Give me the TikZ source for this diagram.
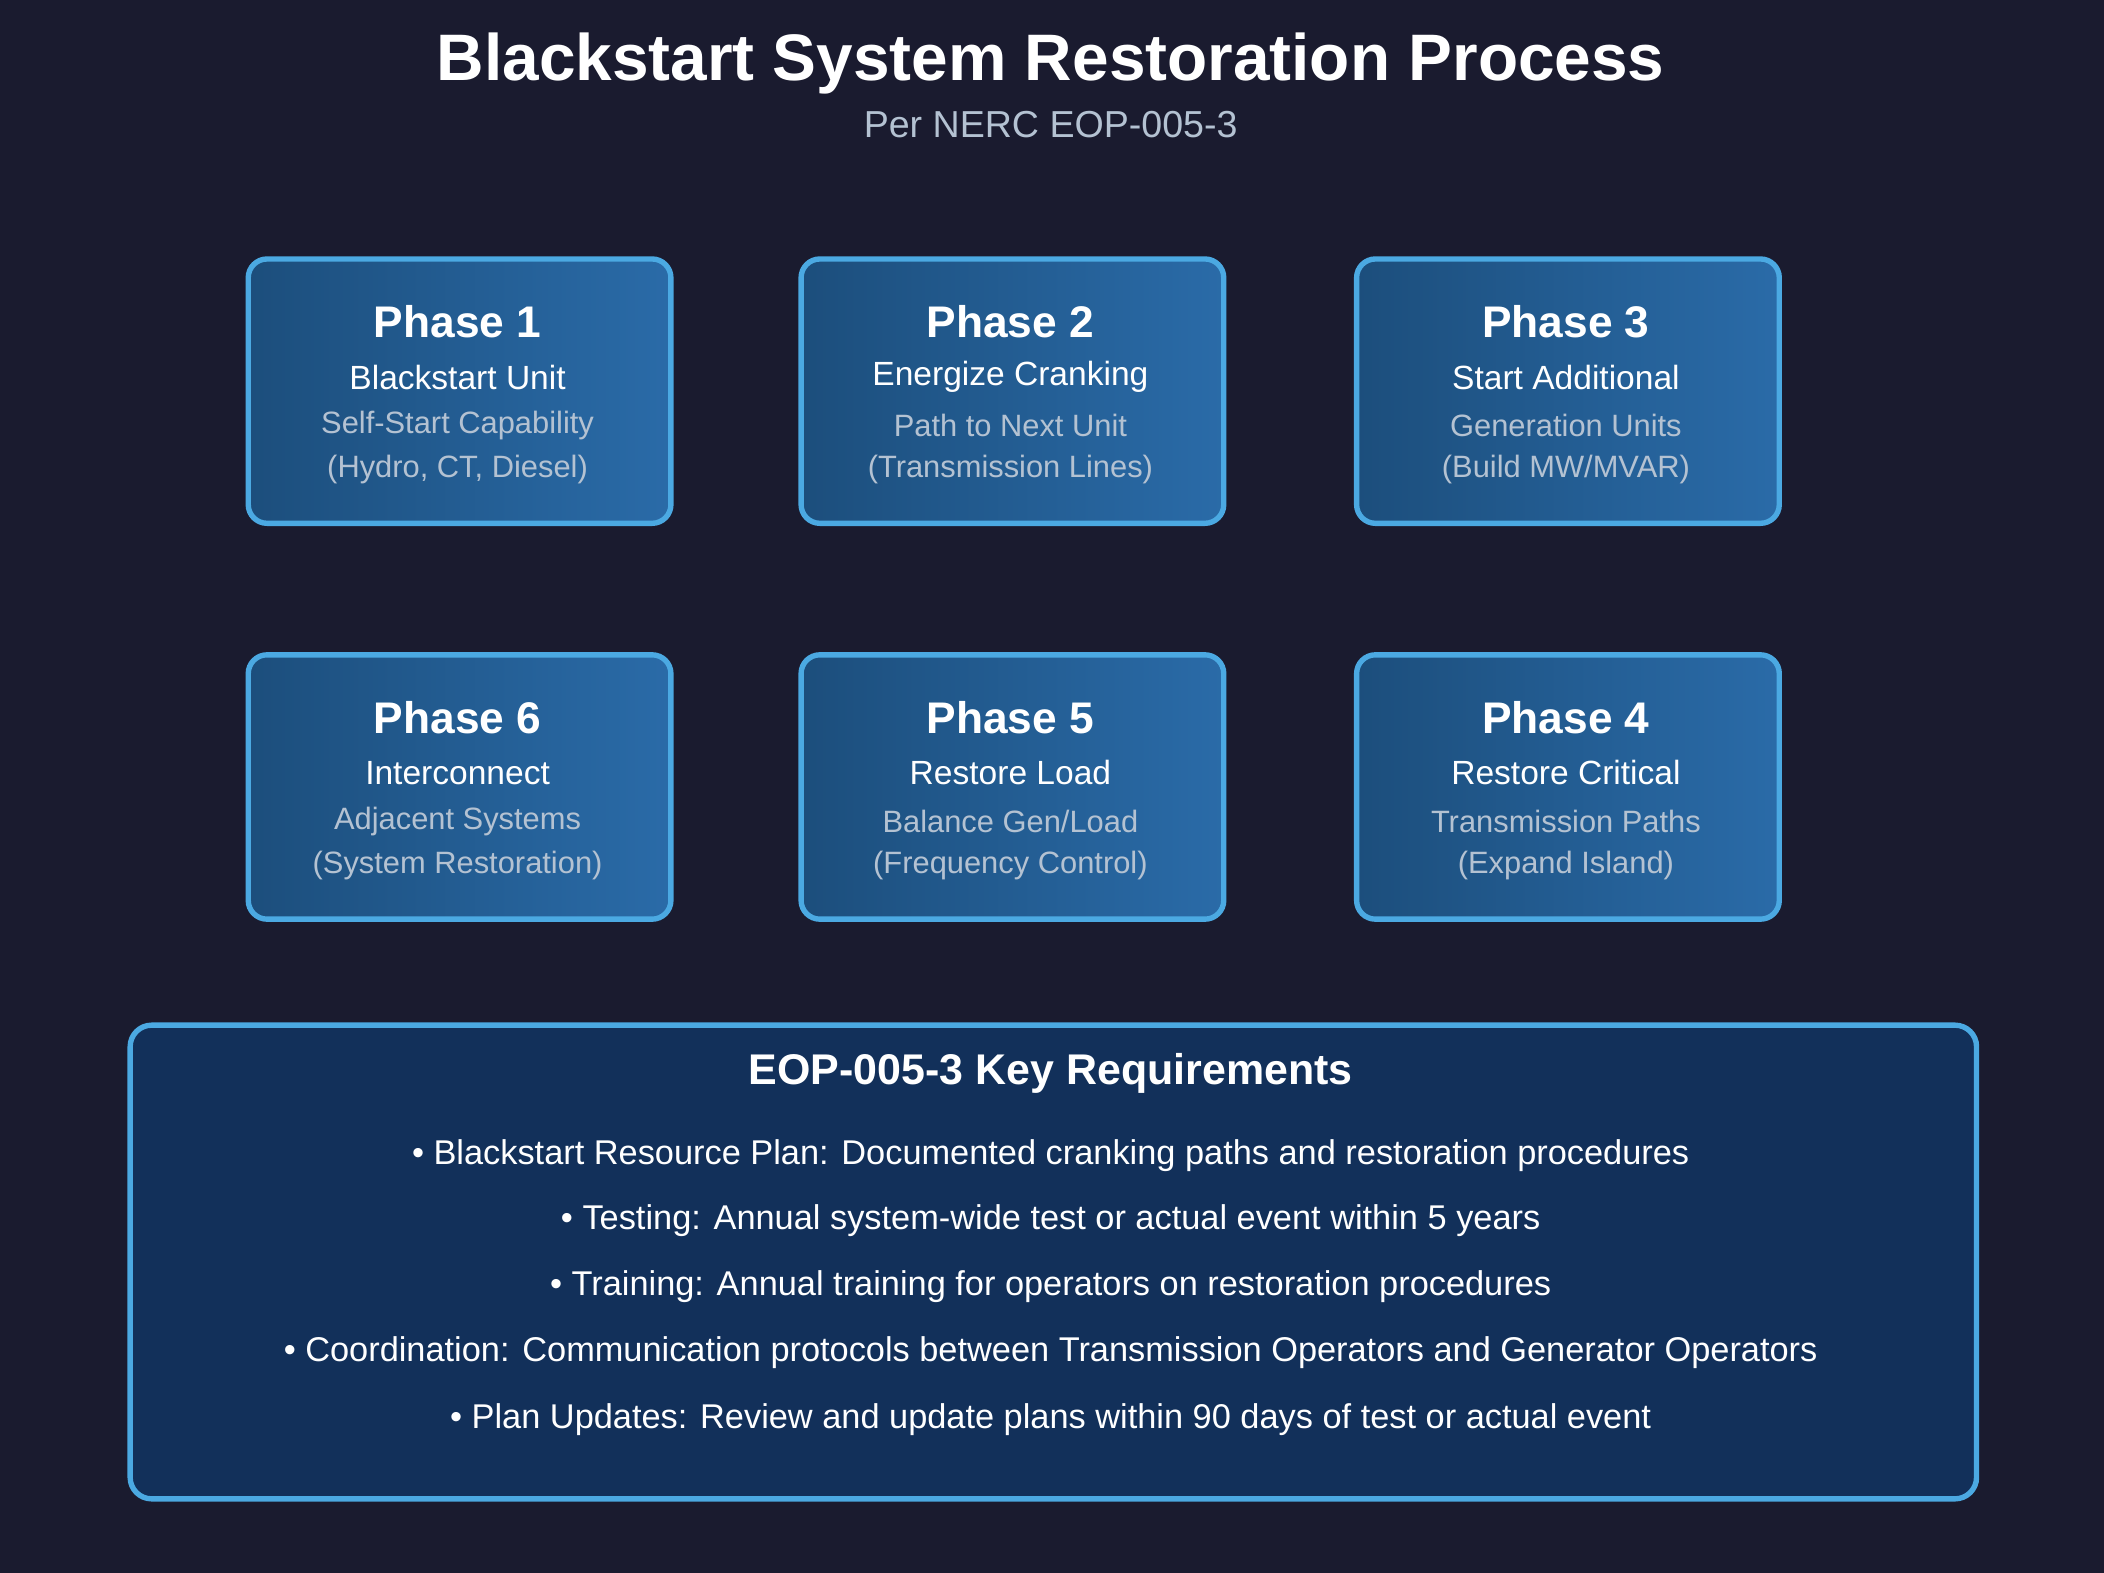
\documentclass[tikz,border=0pt]{standalone}
\usepackage{fontspec}
\setmainfont{Liberation Sans}
\definecolor{bgdark}{HTML}{1A1B2F}
\definecolor{boxleft}{HTML}{1C4E7C}
\definecolor{boxright}{HTML}{2A6BA8}
\definecolor{boxedge}{HTML}{4BA9E2}
\definecolor{reqfill}{HTML}{12305A}
\definecolor{subgray}{HTML}{B4C2D2}
\tikzset{
  phasebox/.style={draw=boxedge,line width=2pt,rounded corners=7pt,left color=boxleft,right color=boxright,minimum width=157.5pt,minimum height=98.5pt,anchor=north west,inner sep=0pt},
  phasetitle/.style={text=white,font=\bfseries\fontsize{16.5}{18}\selectfont},
  phasename/.style={text=white,font=\fontsize{12.5}{14}\selectfont},
  phasenote/.style={text=subgray,font=\fontsize{11.5}{13}\selectfont}
}
\begin{document}
\begin{tikzpicture}[x=0.5pt,y=-0.5pt]
\fill[bgdark] (0,0) rectangle (1568,1172);
\useasboundingbox (0,0) rectangle (1568,1172);
\node[text=white,font=\bfseries\fontsize{24.5}{28}\selectfont] (title) at (783,47) {Blackstart System Restoration Process};
\node[text=subgray,font=\fontsize{14}{16}\selectfont] (subtitle) at (783,93) {Per NERC EOP-005-3};
% phase boxes
\foreach \n/\x/\y/\a/\b/\c in {1/183/191/{Blackstart Unit}/{Self-Start Capability}/{(Hydro, CT, Diesel)},
  2/595/191/{Energize Cranking}/{Path to Next Unit}/{(Transmission Lines)},
  3/1009/191/{Start Additional}/{Generation Units}/{(Build MW\slash MVAR)},
  6/183/486/{Interconnect}/{Adjacent Systems}/{(System Restoration)},
  5/595/486/{Restore Load}/{Balance Gen\slash Load}/{(Frequency Control)},
  4/1009/486/{Restore Critical}/{Transmission Paths}/{(Expand Island)}}{
  \node[phasebox] (p\n) at (\x,\y) {};
  \node[phasetitle] (p\n t) at (\x+158,\y+49) {Phase \n};
  \node[phasename] (p\n a) at (\x+158,\y+90) {\a};
  \node[phasenote] (p\n b) at (\x+158,\y+126) {\b};
  \node[phasenote] (p\n c) at (\x+158,\y+159) {\c};
}
% requirements
\node[draw=boxedge,line width=2pt,rounded corners=8pt,fill=reqfill,minimum width=688pt,minimum height=176.5pt,anchor=north west] (req) at (95,762) {};
\node[text=white,font=\bfseries\fontsize{16}{18}\selectfont] (reqhead) at (783,800) {EOP-005-3 Key Requirements};
\foreach \i/\y/\t in {1/861/{• Blackstart Resource Plan: Documented cranking paths and restoration procedures},
  2/910/{• Testing: Annual system-wide test or actual event within 5 years},
  3/959/{• Training: Annual training for operators on restoration procedures},
  4/1008/{• Coordination: Communication protocols between Transmission Operators and Generator Operators},
  5/1058/{• Plan Updates: Review and update plans within 90 days of test or actual event}}{
  \node[text=white,font=\fontsize{12.8}{15}\selectfont] (r\i) at (783,\y) {\t};
}
\end{tikzpicture}
\end{document}
